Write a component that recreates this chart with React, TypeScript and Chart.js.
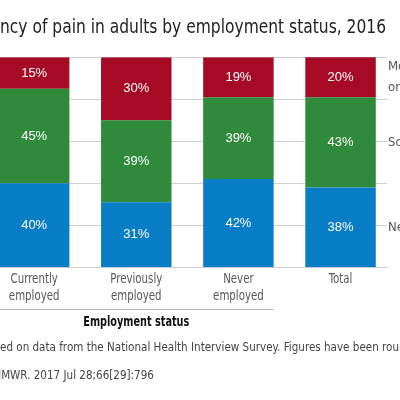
import React, { useEffect, useRef } from 'react';
import { Chart, registerables } from 'chart.js';

Chart.register(...registerables);

// data
const categories = [['Currently', 'employed'], ['Previously', 'employed'], ['Never', 'employed'], ['Total']];
const neverPct = [40, 31, 42, 38];
const someDaysPct = [45, 39, 39, 43];
const mostDaysPct = [15, 30, 19, 20];
const seriesNames = [['Never'], ['Some days'], ['Most days', 'or every day']];
const seriesColors = ['#0a7dc7', '#2f8a3b', '#a60a24'];
const yTicks = [0, 20, 40, 60, 80, 100];
const titleText = 'Frequency of pain in adults by employment status, 2016';
const groupTitle = 'Employment status';
const noteText = 'Note: Based on data from the National Health Interview Survey. Figures have been rounded.';
const sourceText = 'Source: MMWR. 2017 Jul 28;66[29]:796';

// the reference is a crop of a wider figure, so the canvas hangs off the left edge
const SHIFT = 60;
const CANVAS_W = 480;
const CANVAS_H = 400;
const GRID_RIGHT = 387;
const NARROW = '"DejaVu Sans Condensed", "DejaVu Sans", sans-serif';
const PLAIN = '"Liberation Sans", Arial, sans-serif';

const setNarrow = (ctx: any, spec: string) => {
  ctx.font = `${spec} ${NARROW}`;
  ctx.fontStretch = 'condensed';
};

// draw text squeezed horizontally by sx around its anchor
const squeezed = (ctx: any, text: string, x: number, y: number, sx: number) => {
  ctx.save();
  ctx.translate(x, y);
  ctx.scale(sx, 1);
  ctx.fillText(text, 0, 0);
  ctx.restore();
};

const annotate = {
  id: 'annotate',
  beforeDatasetsDraw(chart: any) {
    const { ctx, chartArea, scales } = chart;
    ctx.save();
    ctx.strokeStyle = '#cfcfcf';
    ctx.lineWidth = 1;
    yTicks.forEach((v) => {
      const y = Math.round(scales.y.getPixelForValue(v)) + 0.5;
      ctx.beginPath();
      ctx.moveTo(chartArea.left, y);
      ctx.lineTo(GRID_RIGHT + SHIFT, y);
      ctx.stroke();
    });
    ctx.restore();
  },
  afterDatasetsDraw(chart: any) {
    const { ctx, chartArea } = chart;
    ctx.save();
    ctx.fillStyle = '#ffffff';
    ctx.font = `13px ${PLAIN}`;
    ctx.textAlign = 'center';
    ctx.textBaseline = 'middle';
    chart.data.datasets.forEach((ds: any, i: number) => {
      chart.getDatasetMeta(i).data.forEach((el: any, j: number) => {
        const top = Math.max(el.y, chartArea.top);
        ctx.fillText(`${ds.data[j]}%`, el.x, (top + el.base) / 2);
      });
    });
    ctx.restore();
  },
  afterDraw(chart: any) {
    const { ctx, chartArea } = chart;
    const x = chart.scales.x;
    ctx.save();
    ctx.textBaseline = 'middle';

    // title, right aligned, left part cropped
    ctx.fillStyle = '#222';
    setNarrow(ctx, '19px');
    ctx.textAlign = 'right';
    const tsx = 386 / ctx.measureText(titleText.slice(6)).width;
    squeezed(ctx, titleText, 386 + SHIFT, 28, tsx);

    // category labels under the bars, at the x scale's positions
    ctx.fillStyle = '#585858';
    setNarrow(ctx, '14px');
    ctx.textAlign = 'center';
    const csx = 52 / ctx.measureText('Previously').width;
    chart.data.labels.forEach((lab: string[], i: number) => {
      lab.forEach((t, k) => {
        squeezed(ctx, t, x.getPixelForValue(i), chartArea.bottom + 12 + k * 17, csx);
      });
    });

    // series names beside the last bar
    ctx.fillStyle = '#555';
    setNarrow(ctx, '13px');
    ctx.textAlign = 'left';
    chart.data.datasets.forEach((ds: any, i: number) => {
      const meta = chart.getDatasetMeta(i);
      const el = meta.data[meta.data.length - 1];
      const mid = (Math.max(el.y, chartArea.top) + el.base) / 2;
      const lines = seriesNames[i];
      lines.forEach((t, k) => {
        ctx.fillText(t, 388 + SHIFT, mid + (k - (lines.length - 1) / 2) * 21);
      });
    });

    // bracket under the employment groups
    const half = (x.getPixelForValue(1) - x.getPixelForValue(0)) * 0.69 / 2;
    const left = x.getPixelForValue(0) - half;
    const right = x.getPixelForValue(2) + half;
    ctx.strokeStyle = '#bdbdbd';
    ctx.lineWidth = 1;
    ctx.beginPath();
    ctx.moveTo(left, 309.5);
    ctx.lineTo(right, 309.5);
    ctx.stroke();

    ctx.fillStyle = '#111';
    setNarrow(ctx, 'bold 14px');
    ctx.textAlign = 'center';
    const gsx = 106 / ctx.measureText(groupTitle).width;
    squeezed(ctx, groupTitle, (x.getPixelForValue(0) + x.getPixelForValue(2)) / 2, 322, gsx);

    // footer
    ctx.fillStyle = '#444';
    setNarrow(ctx, '12px');
    ctx.textAlign = 'left';
    const shown = noteText.slice(9, 84);
    const fsx = 399 / ctx.measureText(shown).width;
    const fx = SHIFT - ctx.measureText(noteText.slice(0, 9)).width * fsx;
    squeezed(ctx, noteText, fx, 348, fsx);
    squeezed(ctx, sourceText, fx, 376, fsx);
    ctx.restore();
  },
};

const App: React.FC = () => {
  const canvasRef = useRef<HTMLCanvasElement>(null);

  useEffect(() => {
    const chart = new Chart(canvasRef.current as HTMLCanvasElement, {
      type: 'bar',
      data: {
        labels: categories as any,
        datasets: [
          { label: 'Never', data: neverPct, backgroundColor: seriesColors[0] },
          { label: 'Some days', data: someDaysPct, backgroundColor: seriesColors[1] },
          { label: 'Most days or every day', data: mostDaysPct, backgroundColor: seriesColors[2] },
        ],
      },
      options: {
        animation: false,
        responsive: false,
        devicePixelRatio: 1,
        layout: { padding: { left: SHIFT - 16.9, right: CANVAS_W - SHIFT - 391.6, top: 57.3, bottom: 92.7 } },
        datasets: { bar: { barPercentage: 0.69, categoryPercentage: 1 } },
        plugins: { legend: { display: false }, tooltip: { enabled: false }, title: { display: false } },
        scales: {
          x: {
            stacked: true,
            grid: { display: false, drawTicks: false },
            border: { display: false },
            ticks: { display: false },
            afterFit: (scale: any) => { scale.height = 40; },
          },
          y: {
            stacked: true,
            display: false,
            min: 0,
            max: 100,
            afterFit: (scale: any) => { scale.width = 0; },
          },
        },
      },
      plugins: [annotate],
    });
    return () => {
      chart.destroy();
    };
  }, []);

  return (
    <div style={{ position: 'fixed', left: 0, top: 0, width: 400, height: 400, overflow: 'hidden', background: '#fff' }}>
      <canvas
        ref={canvasRef}
        width={CANVAS_W}
        height={CANVAS_H}
        style={{ position: 'absolute', left: -SHIFT, top: 0, width: CANVAS_W, height: CANVAS_H }}
      />
    </div>
  );
};

export default App;
